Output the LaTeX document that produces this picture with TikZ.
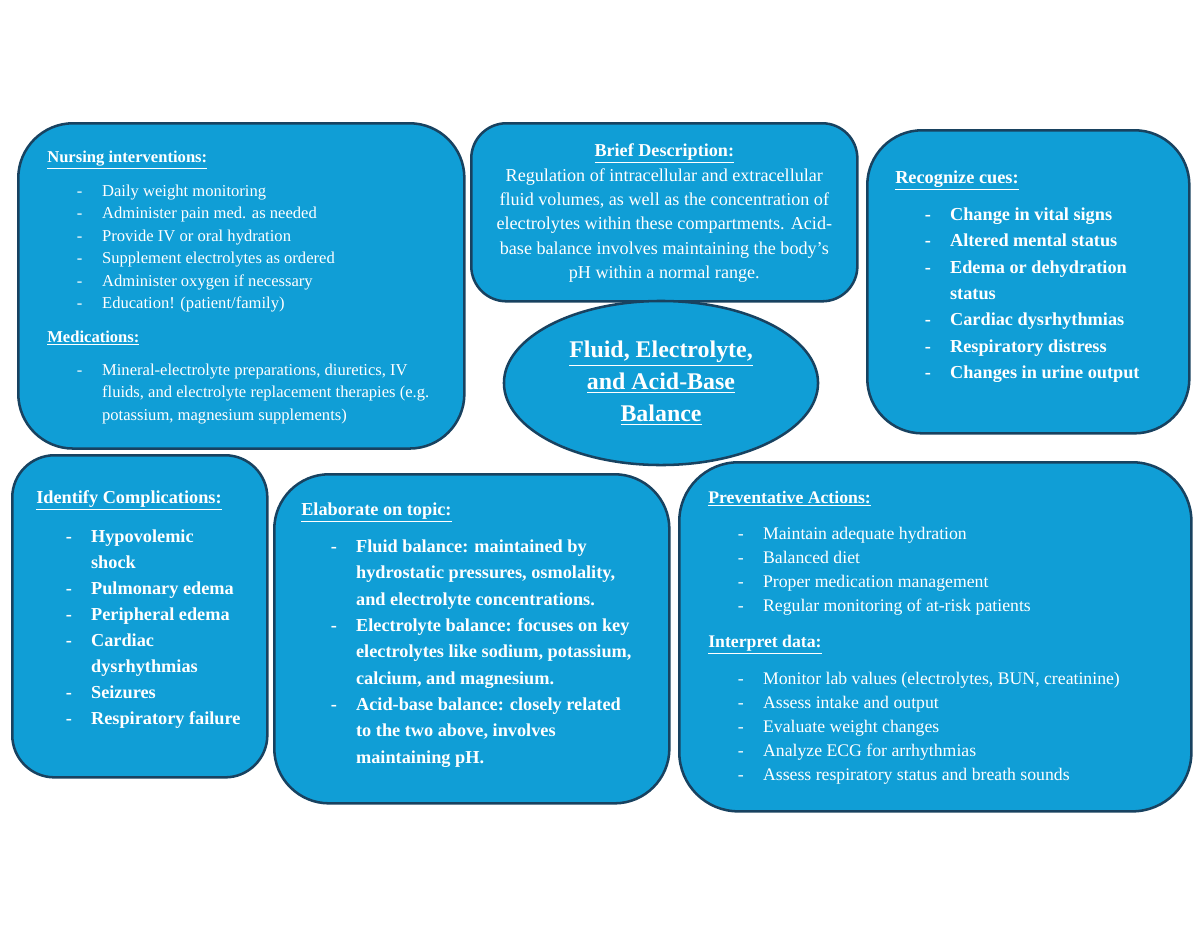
\documentclass[tikz,border=0pt]{standalone}
\usepackage{fontspec}
\setmainfont{Liberation Serif}
\usepackage{xcolor}
\usepackage{tikz}
\usetikzlibrary{positioning, shapes.geometric, calc}

\definecolor{cardblue}{RGB}{16,158,214}
\definecolor{cardedge}{RGB}{24,66,96}

\newdimen\pxu
\pxu=0.7113pt

% dash list used inside every card
\newenvironment{dashes}{\begin{list}{-}{%
    \setlength{\leftmargin}{39pt}\setlength{\rightmargin}{-40pt}%
    \setlength{\labelsep}{0pt}\setlength{\labelwidth}{39pt}%
    \setlength{\itemsep}{0pt}\setlength{\parsep}{0pt}%
    \setlength{\topsep}{0pt}\setlength{\partopsep}{0pt}%
    \renewcommand{\makelabel}[1]{\hspace*{21pt}##1\hfil}}}{\end{list}}
\newcommand{\cardbody}[3]{\makebox[#1\pxu][l]{\begin{minipage}[t][#2\pxu][t]{#1\pxu}\raggedright#3\end{minipage}}}
\newcommand{\cardhead}[1]{\underline{\textbf{#1}}\par}

\tikzset{
    card/.style={rectangle, draw=cardedge, line width=1.8pt, fill=cardblue, text=white, anchor=north west},
    hub/.style={ellipse, draw=cardedge, line width=1.8pt, fill=cardblue, text=white, align=center,
        minimum width=314\pxu, minimum height=164\pxu, inner sep=0pt,
        font=\fontsize{17pt}{22.8pt}\selectfont\bfseries},
}

\begin{document}
\begin{tikzpicture}[x=0.025cm, y=-0.025cm]
    \useasboundingbox (0,0) rectangle (1200,927);

    \node[card, rounded corners=39pt, inner xsep=29\pxu, inner ysep=27.6\pxu,
        font=\fontsize{11.8pt}{16pt}\selectfont] (nurse) at (17,122) {\cardbody{388}{270}{%
        \cardhead{Nursing interventions:}\vspace{8pt}
        \begin{dashes}
            \item Daily weight monitoring
            \item Administer pain med. as needed
            \item Provide IV or oral hydration
            \item Supplement electrolytes as ordered
            \item Administer oxygen if necessary
            \item Education! (patient/family)
        \end{dashes}\vspace{8pt}
        \cardhead{Medications:}\vspace{7.5pt}
        \begin{dashes}
            \item Mineral-electrolyte preparations, diuretics, IV\\fluids, and electrolyte replacement therapies (e.g.\\potassium, magnesium supplements)
        \end{dashes}}};

    \node[card, rounded corners=25pt, inner xsep=20\pxu, inner ysep=20.7\pxu,
        font=\fontsize{12.9pt}{17.3pt}\selectfont] (brief) at (470,122) {\cardbody{346}{136.6}{\centering
        \underline{\textbf{Brief Description:}}\\
        Regulation of intracellular and extracellular\\
        fluid volumes, as well as the concentration of\\
        electrolytes within these compartments. Acid-\\
        base balance involves maintaining the body’s\\
        pH within a normal range.\par}};

    \node[hub] (topic) at (661,383) {\underline{Fluid, Electrolyte,}\\\underline{and Acid-Base}\\\underline{Balance}};

    \node[card, rounded corners=39pt, inner xsep=28\pxu, inner ysep=40.7\pxu,
        font=\fontsize{13pt}{18.7pt}\selectfont\bfseries] (cues) at (866,129) {\cardbody{266}{221.6}{%
        \cardhead{Recognize cues:}\vspace{7.6pt}
        \begin{dashes}
            \item Change in vital signs
            \item Altered mental status
            \item Edema or dehydration\\status
            \item Cardiac dysrhythmias
            \item Respiratory distress
            \item Changes in urine output
        \end{dashes}}};

    \node[card, rounded corners=30pt, inner xsep=24\pxu, inner ysep=35.7\pxu,
        font=\fontsize{13pt}{18.5pt}\selectfont\bfseries] (compl) at (11,454) {\cardbody{207}{250.6}{%
        \cardhead{Identify Complications:}\vspace{9pt}
        \begin{dashes}
            \item Hypovolemic\\shock
            \item Pulmonary edema
            \item Peripheral edema
            \item Cardiac\\dysrhythmias
            \item Seizures
            \item Respiratory failure
        \end{dashes}}};

    \node[card, rounded corners=39pt, inner xsep=27\pxu, inner ysep=28.7\pxu,
        font=\fontsize{13pt}{18.7pt}\selectfont\bfseries] (elab) at (273,473) {\cardbody{341}{271.6}{%
        \cardhead{Elaborate on topic:}\vspace{7.6pt}
        \begin{dashes}
            \item Fluid balance: maintained by\\hydrostatic pressures, osmolality,\\and electrolyte concentrations.
            \item Electrolyte balance: focuses on key\\electrolytes like sodium, potassium,\\calcium, and magnesium.
            \item Acid-base balance: closely related\\to the two above, involves\\maintaining pH.
        \end{dashes}}};

    \node[card, rounded corners=42pt, inner xsep=29\pxu, inner ysep=28.7\pxu,
        font=\fontsize{12.6pt}{17.1pt}\selectfont] (prev) at (678,461) {\cardbody{454}{291.6}{%
        \cardhead{Preventative Actions:}\vspace{8.5pt}
        \begin{dashes}
            \item Maintain adequate hydration
            \item Balanced diet
            \item Proper medication management
            \item Regular monitoring of at-risk patients
        \end{dashes}\vspace{8.5pt}
        \cardhead{Interpret data:}\vspace{9pt}
        \begin{dashes}
            \item Monitor lab values (electrolytes, BUN, creatinine)
            \item Assess intake and output
            \item Evaluate weight changes
            \item Analyze ECG for arrhythmias
            \item Assess respiratory status and breath sounds
        \end{dashes}}};
\end{tikzpicture}
\end{document}
